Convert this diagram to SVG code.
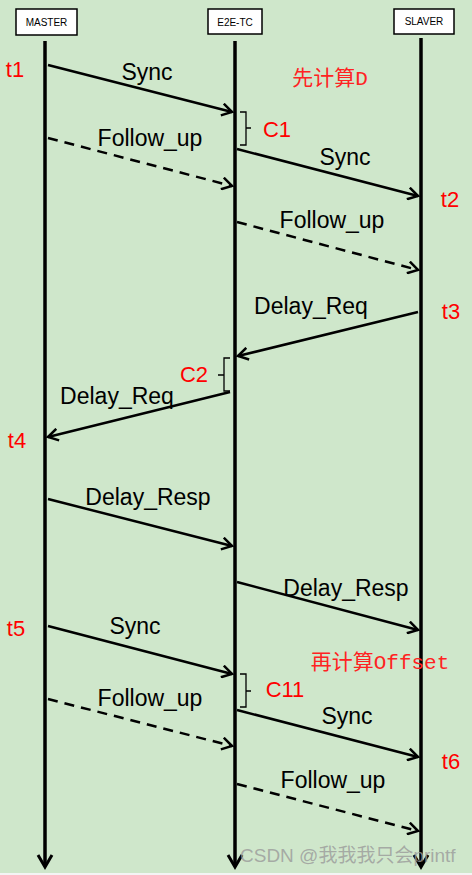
<svg xmlns="http://www.w3.org/2000/svg" width="472" height="875" viewBox="0 0 472 875">
<defs>
<marker id="ah" markerWidth="14" markerHeight="14" refX="11" refY="7" orient="auto" markerUnits="userSpaceOnUse" viewBox="0 0 14 14">
<path d="M1,1 L11,7 L1,13" fill="none" stroke="#000" stroke-width="2.5"/>
</marker>
<style>
.bg{fill:#cfe7cb}
.box{fill:#fff;stroke:#000;stroke-width:1.5}
.bt{font-family:"Liberation Sans",Arial,sans-serif;font-size:10px;fill:#000;text-anchor:middle}
.life{stroke:#000;stroke-width:3.5;fill:none}
.msg{stroke:#000;stroke-width:2.5;fill:none;marker-end:url(#ah)}
.dash{stroke-dasharray:10,7}
.lbl{font-family:"Liberation Sans",Arial,sans-serif;font-size:23px;fill:#000;text-anchor:middle}
.t{font-family:"Liberation Sans",Arial,sans-serif;font-size:22px;fill:#f00;text-anchor:middle}
.cn{font-family:"Liberation Mono","Noto Sans CJK SC",monospace;font-size:21px;fill:#f22;text-anchor:middle}
.br{stroke:#000;stroke-width:1.3;fill:none}
.wm{font-family:"Liberation Sans","Noto Sans CJK SC",sans-serif;font-size:19px;fill:#9a9a9a;fill-opacity:0.8}
</style>
</defs>
<rect class="bg" x="0" y="0" width="472" height="873"/>
<rect x="0" y="873" width="472" height="2" fill="#f4f4f4"/>

<g id="master">
<rect class="box" x="16" y="9" width="61" height="26"/>
<text class="bt" x="46.5" y="26">MASTER</text>
<line class="life" x1="45" y1="41" x2="45" y2="866"/>
<path d="M38,855 L45,867 L52,855" fill="none" stroke="#000" stroke-width="3"/>
</g>
<g id="e2etc">
<rect class="box" x="208" y="9" width="54" height="25"/>
<text class="bt" x="235" y="26">E2E-TC</text>
<line class="life" x1="235" y1="41" x2="235" y2="866"/>
<path d="M228,855 L235,867 L242,855" fill="none" stroke="#000" stroke-width="3"/>
</g>
<g id="slaver">
<rect class="box" x="394" y="9" width="60" height="25"/>
<text class="bt" x="424" y="25">SLAVER</text>
<line class="life" x1="421" y1="38" x2="421" y2="866"/>
<path d="M414,855 L421,867 L428,855" fill="none" stroke="#000" stroke-width="3"/>
</g>

<g id="connectors">
<line class="msg" x1="48" y1="65" x2="232" y2="112"/>
<line class="msg dash" x1="48" y1="138" x2="232" y2="186"/>
<line class="msg" x1="237" y1="149" x2="418" y2="196"/>
<line class="msg dash" x1="237" y1="222" x2="418" y2="270"/>
<line class="msg" x1="418" y1="312" x2="238" y2="356"/>
<line class="msg" x1="230" y1="392" x2="48" y2="437"/>
<line class="msg" x1="48" y1="499" x2="232" y2="546"/>
<line class="msg" x1="237" y1="582" x2="418" y2="630"/>
<line class="msg" x1="48" y1="626" x2="232" y2="674"/>
<line class="msg dash" x1="48" y1="699" x2="232" y2="746"/>
<line class="msg" x1="237" y1="710" x2="418" y2="757"/>
<line class="msg dash" x1="237" y1="784" x2="418" y2="831"/>
</g>

<g id="labels">
<text class="lbl" x="147" y="80">Sync</text>
<text class="lbl" x="150" y="146">Follow_up</text>
<text class="lbl" x="345" y="165">Sync</text>
<text class="lbl" x="332" y="228">Follow_up</text>
<text class="lbl" x="311" y="314">Delay_Req</text>
<text class="lbl" x="117" y="404">Delay_Req</text>
<text class="lbl" x="148" y="505">Delay_Resp</text>
<text class="lbl" x="346" y="596">Delay_Resp</text>
<text class="lbl" x="135" y="634">Sync</text>
<text class="lbl" x="150" y="706">Follow_up</text>
<text class="lbl" x="347" y="724">Sync</text>
<text class="lbl" x="333" y="788">Follow_up</text>
</g>

<g id="brackets">
<path class="br" d="M240,112 L246,112 L246,128 L251,128 M246,128 L246,145 L240,145"/>
<text class="t" x="277" y="137">C1</text>
<path class="br" d="M230,358 L224,358 L224,375 L218,375 M224,375 L224,391 L230,391"/>
<text class="t" x="194" y="382">C2</text>
<path class="br" d="M240,674 L246,674 L246,691 L251,691 M246,691 L246,707 L240,707"/>
<text class="t" x="285" y="697">C11</text>
</g>

<g id="times">
<text class="t" x="15" y="77">t1</text>
<text class="t" x="450" y="207">t2</text>
<text class="t" x="451" y="319">t3</text>
<text class="t" x="17" y="448">t4</text>
<text class="t" x="16" y="636">t5</text>
<text class="t" x="451" y="769">t6</text>
</g>

<g id="notes">
<text class="cn" x="330" y="85">先计算D</text>
<text class="cn" x="380" y="669">再计算Offset</text>
</g>
<text class="wm" x="240" y="862">CSDN @我我我只会printf</text>
</svg>
